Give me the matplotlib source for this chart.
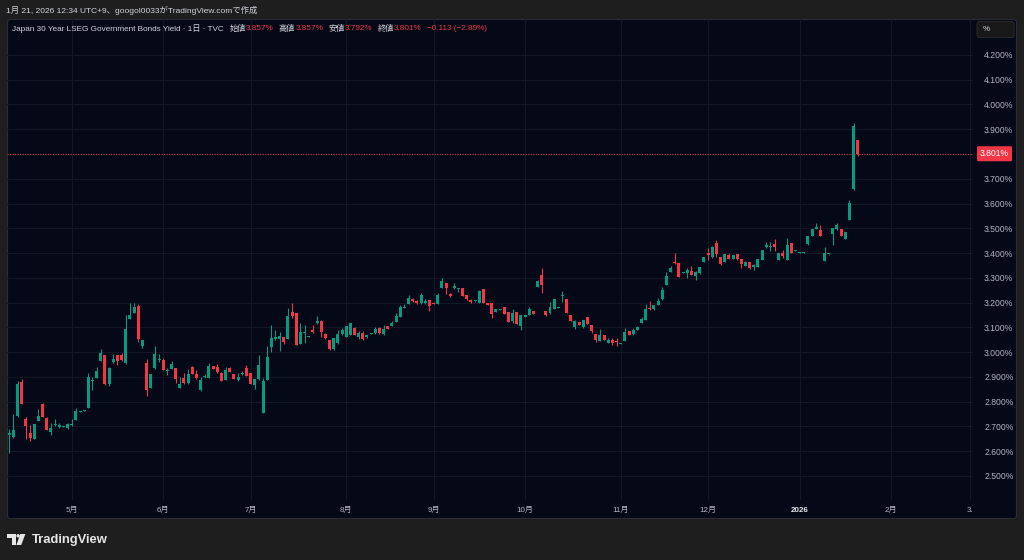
import matplotlib
matplotlib.use("Agg")
import matplotlib.pyplot as plt
import numpy as np
from matplotlib.patches import FancyBboxPatch, Polygon, Circle
from matplotlib.ticker import FuncFormatter

plt.rcParams['font.family'] = ['Liberation Sans', 'Noto Sans CJK JP', 'DejaVu Sans']

# --- 配色 ---
bull = "#089981"
bear = "#f23645"
panel_bg = "#050817"
outer_bg = "#1e1e1e"
grid_c = "#131726"
txt_c = "#d1d4dc"
axis_txt = "#b2b5be"

# --- 日足データ (2025/4 - 2026/1/21, 利回り %) ---
opens = [
    2.666, 2.657, 2.742, 2.881, 2.729, 2.675, 2.651, 2.722, 2.789, 2.736,
    2.679, 2.704, 2.698, 2.697, 2.695, 2.705, 2.725, 2.760, 2.762, 2.775,
    2.882, 2.896, 2.964, 2.987, 2.870, 2.960, 2.987, 2.987, 2.955, 3.135,
    3.157, 3.186, 3.025, 2.955, 2.857, 2.934, 2.970, 2.969, 2.923, 2.931,
    2.934, 2.857, 2.897, 2.874, 2.938, 2.913, 2.846, 2.900, 2.896, 2.944,
    2.940, 2.917, 2.888, 2.934, 2.911, 2.888, 2.910, 2.934, 2.915, 2.867,
    2.890, 2.756, 2.888, 3.019, 3.053, 3.053, 3.062, 3.053, 3.163, 3.156,
    3.033, 3.076, 3.061, 3.090, 3.116, 3.127, 3.072, 3.049, 3.011, 3.035,
    3.073, 3.062, 3.069, 3.099, 3.062, 3.079, 3.060, 3.075, 3.076, 3.099,
    3.072, 3.105, 3.107, 3.123, 3.143, 3.180, 3.194, 3.213, 3.208, 3.197,
    3.197, 3.210, 3.198, 3.194, 3.258, 3.280, 3.235, 3.258, 3.254, 3.258,
    3.231, 3.210, 3.205, 3.200, 3.254, 3.197, 3.197, 3.163, 3.172, 3.181,
    3.163, 3.127, 3.163, 3.107, 3.143, 3.150, 3.166, 3.262, 3.311, 3.167,
    3.156, 3.174, 3.180, 3.225, 3.214, 3.150, 3.103, 3.120, 3.100, 3.140,
    3.109, 3.073, 3.045, 3.069, 3.038, 3.049, 3.046, 3.032, 3.046, 3.085,
    3.072, 3.089, 3.119, 3.129, 3.177, 3.173, 3.190, 3.213, 3.273, 3.325,
    3.361, 3.358, 3.320, 3.318, 3.329, 3.307, 3.318, 3.365, 3.399, 3.383,
    3.439, 3.385, 3.365, 3.392, 3.378, 3.396, 3.374, 3.349, 3.362, 3.342,
    3.345, 3.372, 3.423, 3.423, 3.436, 3.372, 3.399, 3.372, 3.439, 3.410,
    3.400, 3.400, 3.435, 3.469, 3.497, 3.493, 3.369, 3.395, 3.476, 3.496,
    3.497, 3.458, 3.533, 3.657, 3.857,
]
highs = [
    2.689, 2.749, 2.884, 2.890, 2.740, 2.705, 2.711, 2.771, 2.796, 2.737,
    2.715, 2.729, 2.715, 2.700, 2.715, 2.729, 2.776, 2.762, 2.765, 2.917,
    2.901, 2.940, 3.011, 2.988, 2.938, 2.994, 2.988, 2.998, 3.149, 3.197,
    3.197, 3.193, 3.049, 2.971, 2.912, 3.025, 2.991, 2.975, 2.937, 2.964,
    2.935, 2.901, 2.917, 2.931, 2.944, 2.928, 2.901, 2.911, 2.955, 2.945,
    2.951, 2.918, 2.940, 2.941, 2.912, 2.917, 2.924, 2.948, 2.916, 2.891,
    2.987, 2.897, 3.025, 3.110, 3.089, 3.082, 3.063, 3.177, 3.197, 3.158,
    3.116, 3.109, 3.064, 3.109, 3.147, 3.128, 3.079, 3.050, 3.059, 3.089,
    3.096, 3.106, 3.117, 3.100, 3.086, 3.086, 3.070, 3.078, 3.103, 3.100,
    3.110, 3.106, 3.127, 3.157, 3.190, 3.194, 3.231, 3.217, 3.209, 3.238,
    3.213, 3.211, 3.204, 3.240, 3.298, 3.281, 3.240, 3.280, 3.257, 3.259,
    3.232, 3.213, 3.208, 3.249, 3.255, 3.199, 3.198, 3.174, 3.175, 3.182,
    3.164, 3.176, 3.164, 3.151, 3.151, 3.181, 3.167, 3.290, 3.338, 3.168,
    3.204, 3.214, 3.183, 3.247, 3.215, 3.151, 3.128, 3.121, 3.131, 3.141,
    3.110, 3.074, 3.092, 3.070, 3.056, 3.056, 3.059, 3.035, 3.096, 3.086,
    3.096, 3.104, 3.140, 3.194, 3.206, 3.191, 3.217, 3.261, 3.324, 3.347,
    3.399, 3.359, 3.323, 3.338, 3.348, 3.326, 3.343, 3.386, 3.419, 3.427,
    3.453, 3.386, 3.397, 3.401, 3.393, 3.397, 3.375, 3.366, 3.363, 3.356,
    3.375, 3.413, 3.445, 3.445, 3.455, 3.402, 3.412, 3.459, 3.440, 3.413,
    3.403, 3.403, 3.470, 3.497, 3.520, 3.513, 3.426, 3.398, 3.501, 3.520,
    3.498, 3.487, 3.614, 3.924, 3.857,
]
lows = [
    2.594, 2.655, 2.738, 2.790, 2.648, 2.641, 2.649, 2.721, 2.737, 2.685,
    2.665, 2.702, 2.695, 2.696, 2.690, 2.703, 2.724, 2.759, 2.761, 2.774,
    2.847, 2.895, 2.963, 2.869, 2.863, 2.955, 2.947, 2.966, 2.954, 3.133,
    3.156, 3.039, 3.016, 2.823, 2.856, 2.933, 2.961, 2.927, 2.906, 2.930,
    2.874, 2.856, 2.873, 2.873, 2.910, 2.893, 2.845, 2.897, 2.895, 2.930,
    2.917, 2.883, 2.887, 2.920, 2.892, 2.884, 2.907, 2.903, 2.872, 2.852,
    2.889, 2.755, 2.887, 3.002, 3.049, 3.003, 3.032, 3.052, 3.137, 3.027,
    3.032, 3.036, 3.060, 3.078, 3.115, 3.062, 3.055, 3.010, 3.010, 3.034,
    3.069, 3.061, 3.068, 3.068, 3.055, 3.051, 3.059, 3.074, 3.075, 3.073,
    3.071, 3.094, 3.106, 3.122, 3.142, 3.177, 3.193, 3.204, 3.196, 3.196,
    3.196, 3.167, 3.193, 3.193, 3.257, 3.235, 3.224, 3.254, 3.244, 3.226,
    3.212, 3.197, 3.204, 3.199, 3.199, 3.189, 3.139, 3.162, 3.171, 3.153,
    3.122, 3.118, 3.112, 3.089, 3.142, 3.149, 3.153, 3.261, 3.240, 3.146,
    3.155, 3.173, 3.179, 3.204, 3.158, 3.126, 3.092, 3.108, 3.099, 3.112,
    3.076, 3.039, 3.043, 3.048, 3.035, 3.028, 3.024, 3.031, 3.045, 3.068,
    3.069, 3.088, 3.118, 3.128, 3.172, 3.170, 3.189, 3.212, 3.272, 3.324,
    3.357, 3.303, 3.319, 3.301, 3.310, 3.290, 3.317, 3.364, 3.372, 3.382,
    3.385, 3.353, 3.364, 3.374, 3.377, 3.373, 3.338, 3.348, 3.337, 3.332,
    3.344, 3.371, 3.420, 3.410, 3.410, 3.371, 3.379, 3.371, 3.399, 3.409,
    3.399, 3.399, 3.433, 3.468, 3.496, 3.467, 3.368, 3.394, 3.432, 3.495,
    3.468, 3.457, 3.532, 3.656, 3.792,
]
closes = [
    2.675, 2.686, 2.870, 2.791, 2.702, 2.655, 2.709, 2.742, 2.738, 2.686,
    2.695, 2.708, 2.705, 2.699, 2.709, 2.707, 2.763, 2.761, 2.764, 2.901,
    2.888, 2.924, 2.995, 2.870, 2.934, 2.971, 2.964, 2.967, 3.092, 3.149,
    3.184, 3.052, 3.048, 2.847, 2.911, 2.991, 2.972, 2.928, 2.928, 2.951,
    2.890, 2.870, 2.874, 2.911, 2.911, 2.894, 2.888, 2.902, 2.944, 2.931,
    2.918, 2.884, 2.927, 2.921, 2.893, 2.901, 2.912, 2.904, 2.873, 2.890,
    2.950, 2.884, 2.982, 3.056, 3.062, 3.065, 3.042, 3.147, 3.146, 3.029,
    3.080, 3.080, 3.063, 3.081, 3.126, 3.080, 3.056, 3.011, 3.058, 3.073,
    3.089, 3.105, 3.116, 3.069, 3.076, 3.052, 3.069, 3.077, 3.092, 3.076,
    3.092, 3.095, 3.116, 3.146, 3.181, 3.184, 3.217, 3.208, 3.197, 3.231,
    3.208, 3.188, 3.196, 3.231, 3.289, 3.258, 3.227, 3.267, 3.256, 3.227,
    3.213, 3.201, 3.207, 3.248, 3.200, 3.190, 3.154, 3.173, 3.174, 3.154,
    3.123, 3.159, 3.113, 3.150, 3.150, 3.173, 3.154, 3.288, 3.271, 3.150,
    3.181, 3.213, 3.182, 3.227, 3.159, 3.127, 3.127, 3.109, 3.130, 3.113,
    3.086, 3.049, 3.069, 3.049, 3.049, 3.038, 3.042, 3.034, 3.082, 3.069,
    3.089, 3.103, 3.132, 3.173, 3.173, 3.190, 3.206, 3.251, 3.307, 3.338,
    3.358, 3.304, 3.322, 3.331, 3.311, 3.325, 3.342, 3.385, 3.392, 3.426,
    3.396, 3.354, 3.396, 3.378, 3.392, 3.374, 3.354, 3.365, 3.338, 3.352,
    3.374, 3.412, 3.432, 3.428, 3.423, 3.401, 3.388, 3.432, 3.401, 3.412,
    3.402, 3.402, 3.469, 3.496, 3.506, 3.469, 3.399, 3.397, 3.500, 3.513,
    3.469, 3.486, 3.601, 3.914, 3.801,
]

# 月の区切り (バー番号) と軸ラベル
month_pos = [15, 37, 58, 81, 102, 124, 147, 168, 190, 212, 231]
month_labels = ["5月", "6月", "7月", "8月", "9月", "10月", "11月", "12月", "2026", "2月", "3."]
price_ticks = [2.5, 2.6, 2.7, 2.8, 2.9, 3.0, 3.1, 3.2, 3.3, 3.4, 3.5, 3.6,
               3.7, 3.8, 3.9, 4.0, 4.1, 4.2]

o = np.array(opens)
h = np.array(highs)
l = np.array(lows)
c = np.array(closes)
x = np.arange(len(c))
up = c >= o
cols = np.where(up, bull, bear)
last = closes[-1]

# --- 全体レイアウト ---
fig = plt.figure(figsize=(10.24, 5.6), dpi=100, facecolor=outer_bg)
bg = fig.add_axes([0, 0, 1, 1])
bg.set_xlim(0, 1024)
bg.set_ylim(560, 0)
bg.axis("off")
bg.add_patch(FancyBboxPatch((7.5, 19.5), 1009, 499, boxstyle="round,pad=0,rounding_size=3",
                            fc=panel_bg, ec="#2a2d36", lw=0.8))

ax = fig.add_axes([7.3 / 1024, 60 / 560, 965.7 / 1024, 481 / 560], facecolor="none")

# ローソク足
ax.vlines(x, l, h, colors=cols, lw=0.8, zorder=3)
body_lo = np.minimum(o, c)
body_h = np.maximum(np.abs(c - o), 0.004)
ax.bar(x, body_h, bottom=body_lo, width=0.72, color=cols, edgecolor="none", zorder=4)

ax.set_xlim(-0.48, 231.7)
ax.set_ylim(2.403, 4.345)

# 現在値ラベルの下に隠れる目盛は文字を出さない
def fmt_price(v, p):
    if abs(v - last) < 0.03:
        return ""
    return f"{v:.3f}%"

ax.set_yticks(price_ticks)
ax.yaxis.set_major_formatter(FuncFormatter(fmt_price))
ax.yaxis.tick_right()
ax.tick_params(axis="y", length=0, pad=8, labelsize=6.2, labelcolor=axis_txt)

ax.set_xticks(month_pos)
ax.set_xticklabels(month_labels)
ax.tick_params(axis="x", length=0, pad=5, labelsize=5.8, labelcolor=axis_txt)
for t in ax.get_xticklabels():
    if t.get_text() == "2026":
        t.set_fontweight("bold")
        t.set_color("#e6e8ee")

ax.grid(True, color=grid_c, lw=0.8)
ax.set_axisbelow(True)
for s in ax.spines.values():
    s.set_visible(False)

# 現在値ライン + ラベル
ax.axhline(last, color=bear, lw=0.7, ls=(0, (1, 1.6)), zorder=2)
ax.annotate(f"{last:.3f}%", xy=(1, last), xycoords=("axes fraction", "data"),
            xytext=(21.5, 0), textcoords="offset pixels", ha="center", va="center",
            color="white", fontsize=6.2,
            bbox=dict(boxstyle="round,pad=0.35,rounding_size=0.15", fc=bear, ec="none"),
            annotation_clip=False, zorder=10)

# 前面レイヤー (ヘッダー文字・ロゴ)
fg = fig.add_axes([0, 0, 1, 1], facecolor="none")
fg.set_xlim(0, 1024)
fg.set_ylim(560, 0)
fg.axis("off")

# "%" ボタン
fg.add_patch(FancyBboxPatch((977, 21.5), 37, 16, boxstyle="round,pad=0,rounding_size=2.5",
                            fc="#181818", ec="#2e2e2e", lw=0.6))
fg.text(983, 29.5, "%", color=txt_c, fontsize=5.8, va="center")

# --- テキスト ---
renderer = fig.canvas.get_renderer()

def put_seq(x0, y0, pieces, size):
    xx = x0
    for s, col, gap in pieces:
        t = fg.text(xx, y0, s, color=col, fontsize=size, va="center", ha="left")
        xx += t.get_window_extent(renderer).width + gap

fg.text(6, 10, "1月 21, 2026 12:34 UTC+9、googol0033がTradingView.comで作成",
        color=txt_c, fontsize=6.0, va="center")

chg = closes[-1] - closes[-2]
pct = chg / closes[-2] * 100
put_seq(12.5, 28.5, [
    ("Japan 30 Year LSEG Government Bonds Yield · 1日 · TVC", txt_c, 5),
    ("始値", txt_c, 0.5), (f"{opens[-1]:.3f}%", bear, 5),
    ("高値", txt_c, 0.5), (f"{highs[-1]:.3f}%", bear, 5),
    ("安値", txt_c, 0.5), (f"{lows[-1]:.3f}%", bear, 5),
    ("終値", txt_c, 0.5), (f"{closes[-1]:.3f}%", bear, 5),
    (f"\u2212{abs(chg):.3f} (\u2212{abs(pct):.2f}%)", bear, 0),
], 5.9)

# TradingView ロゴ
logo_c = "#e6e6e6"
fg.add_patch(Polygon([(7.3, 534), (16, 534), (16, 545), (12, 545), (12, 537.7), (7.3, 537.7)],
                     closed=True, fc=logo_c, ec="none"))
fg.add_patch(Circle((18.1, 535.8), 1.7, fc=logo_c, ec="none"))
fg.add_patch(Polygon([(20.3, 534), (25.4, 534), (21.2, 545), (16.4, 545)],
                     closed=True, fc=logo_c, ec="none"))
fg.text(31.5, 542.7, "TradingView", color=logo_c, fontsize=9.4, fontweight="bold",
        va="baseline", ha="left")

fig.savefig("out.png", dpi=100, facecolor=outer_bg)
